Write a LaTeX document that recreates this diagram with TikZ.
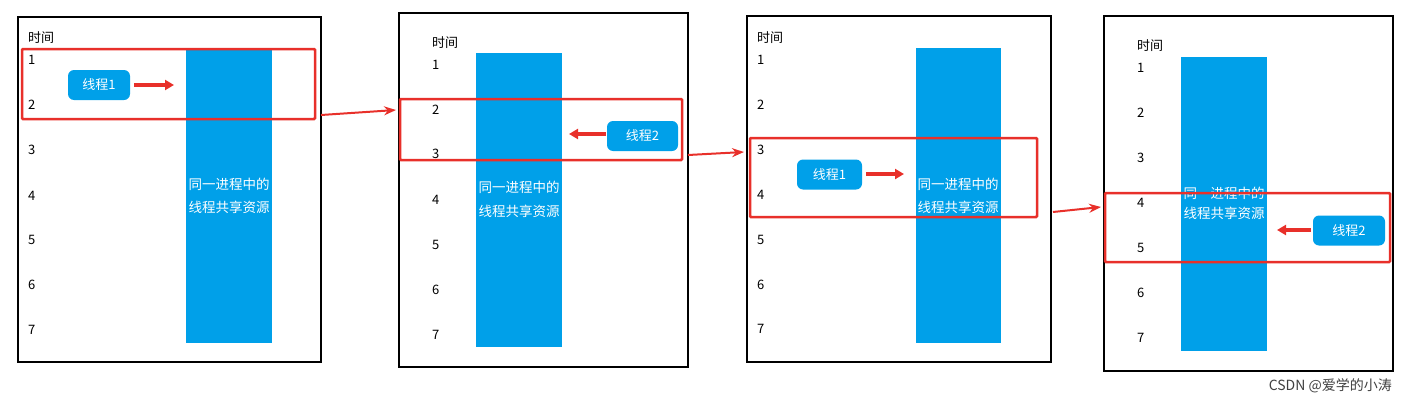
\documentclass[tikz,border=0pt]{standalone}
\usepackage{fontspec}
\setmainfont{Noto Sans CJK SC}
\usetikzlibrary{arrows.meta}
\definecolor{bblue}{HTML}{00A0E9}
\definecolor{rred}{HTML}{E8302A}
\tikzset{
 frame/.style={draw=black,line width=2pt},
 bar/.style={fill=bblue,draw=none},
 hl/.style={draw=rred,line width=2.5pt,rounded corners=1pt},
 thr/.style={fill=bblue,rounded corners=6pt,text=white,font=\fontsize{13}{15}\selectfont,minimum width=#1,minimum height=30pt,inner sep=0pt},
 lbl/.style={font=\fontsize{13}{15}\selectfont,anchor=west,inner sep=0pt},
 bt/.style={text=white,font=\fontsize{13.5}{16}\selectfont,inner sep=0pt},
 pa/.style={draw=rred,line width=2pt,-{Stealth[length=12pt,width=9pt]}},
 ta/.style={draw=rred,line width=3.5pt,-{Triangle[length=9pt,width=10pt]}}
}
\begin{document}
\begin{tikzpicture}[x=1pt,y=-1pt]
\useasboundingbox (0,0) rectangle (1406,407);
% panel 1
\draw[frame] (18,17) rectangle (321,362);
\fill[bar] (186,50) rectangle (272,343);
\node[bt] (t1a) at (229,184) {同一进程中的};
\node[bt] (t1b) at (229,207) {线程共享资源};
\node[lbl] (h1) at (28,38) {时间};
\foreach \n/\yy in {1/60,2/105,3/150,4/196,5/240,6/285,7/330} \node[lbl] (p1n\n) at (28,\yy) {\n};
\node[thr=62pt] (th1) at (99,85) {线程1};
\coordinate (a1e) at (174,85);
\draw[ta] (134,85) -- (a1e);
\draw[hl] (22,49) rectangle (315,119);
\coordinate (r1) at (321,115);
% panel 2
\draw[frame] (399,13) rectangle (688,367);
\fill[bar] (476,53) rectangle (562,347);
\node[bt] (t2a) at (519,187) {同一进程中的};
\node[bt] (t2b) at (519,211) {线程共享资源};
\node[lbl] (h2) at (432,43) {时间};
\foreach \n/\yy in {1/65,2/110,3/154,4/200,5/245,6/290,7/335} \node[lbl] (p2n\n) at (432,\yy) {\n};
\node[thr=71pt] (th2) at (642.5,136) {线程2};
\coordinate (a2e) at (569,134);
\draw[ta] (606,134) -- (a2e);
\draw[hl] (400,99) rectangle (682,160);
\coordinate (l2) at (396,110);
\coordinate (r2) at (688,155);
% panel 3
\draw[frame] (747,16) rectangle (1051,362);
\fill[bar] (916,48) rectangle (1001,343);
\node[bt] (t3a) at (958,184) {同一进程中的};
\node[bt] (t3b) at (958,207) {线程共享资源};
\node[lbl] (h3) at (757,38) {时间};
\foreach \n/\yy in {1/60,2/105,3/150,4/195,5/240,6/285,7/329} \node[lbl] (p3n\n) at (757,\yy) {\n};
\node[thr=65pt] (th3) at (829.5,174.5) {线程1};
\coordinate (a3e) at (904,174);
\draw[ta] (866,174) -- (a3e);
\draw[hl] (750,138) rectangle (1037,217);
\coordinate (l3) at (744,152);
\coordinate (r3) at (1053,212);
% panel 4
\draw[frame] (1104,16) rectangle (1393,371);
\fill[bar] (1181,57) rectangle (1267,351);
\node[bt] (t4a) at (1224,193) {同一进程中的};
\node[bt] (t4b) at (1224,213) {线程共享资源};
\node[lbl] (h4) at (1137,46) {时间};
\foreach \n/\yy in {1/68,2/113,3/158,4/203,5/248,6/293,7/338} \node[lbl] (p4n\n) at (1137,\yy) {\n};
\node[thr=72pt] (th4) at (1349,230.5) {线程2};
\coordinate (a4e) at (1277,230);
\draw[ta] (1311,230) -- (a4e);
\draw[hl] (1105,193) rectangle (1390,262);
\coordinate (l4) at (1101,207);
% connectors
\draw[pa] (r1) -- (l2);
\draw[pa] (r2) -- (l3);
\draw[pa] (r3) -- (l4);
\node[font=\fontsize{14}{16}\selectfont,text=black!75,anchor=east,inner sep=0pt] (wm) at (1392,386) {CSDN @爱学的小涛};
\end{tikzpicture}
\end{document}
